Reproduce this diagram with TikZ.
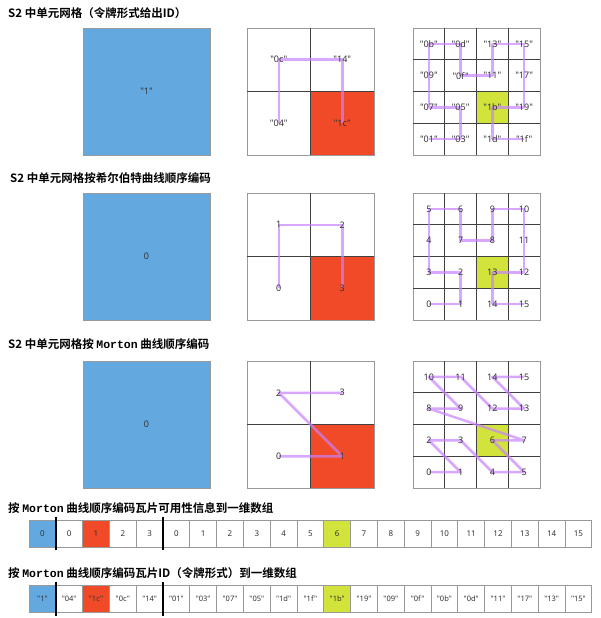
\documentclass[tikz,border=0pt]{standalone}
\usepackage{fontspec}
\setmainfont{Noto Sans}[Ligatures=TeXOff]
\newfontfamily\cjk{Noto Sans CJK SC}[BoldFont={Noto Sans CJK SC Bold}]
\setmonofont{Liberation Mono}
\definecolor{cblue}{RGB}{100,168,224}
\definecolor{cred}{RGB}{240,74,40}
\definecolor{cgreen}{RGB}{210,228,60}
\definecolor{cpath}{RGB}{200,130,255}
\tikzset{
  cell/.style={draw=black!40,line width=0.8pt,inner sep=0pt,minimum size=#1,anchor=center},
  cell/.default=10pt,
  inner/.style={draw=black!75,line width=0.8pt},
  lab/.style={font=\fontsize{9}{10}\selectfont,text=black!80,inner sep=0pt},
  alab/.style={font=\fontsize{8}{9}\selectfont,text=black!80,inner sep=0pt},
  curve/.style={draw=cpath,line width=2.5pt,opacity=0.7,line join=round},
  title/.style={font=\cjk\bfseries\fontsize{11.5}{13}\selectfont,anchor=west,inner sep=0pt},
  sep/.style={draw=black,line width=2pt},
  acell/.style={cell=10pt,minimum width=26.8pt,minimum height=27pt},
}
\newcommand\mkgrid[5]{% name, x, y(top), n, size
  \pgfmathsetmacro\cs{#5/#4}
  \foreach \i in {1,...,#4}{\foreach \j in {1,...,#4}{
    \node[cell=\cs pt] (#1-\i-\j) at ({#2+(\i-0.5)*\cs},{#3+#5-(\j-0.5)*\cs}) {};}}
}
\newcommand\mkinner[5]{%
  \pgfmathsetmacro\cs{#5/#4}
  \pgfmathtruncatemacro\nn{#4-1}
  \foreach \k in {1,...,\nn}{
    \draw[inner] ({#2+\k*\cs},#3) -- ({#2+\k*\cs},{#3+#5});
    \draw[inner] (#2,{#3+\k*\cs}) -- ({#2+#5},{#3+\k*\cs});}
}
\newcommand\hilbertfour[1]{\draw[curve] (#1-1-1.center)--(#1-2-1.center)--(#1-2-2.center)--(#1-1-2.center)--(#1-1-3.center)--(#1-1-4.center)--(#1-2-4.center)--(#1-2-3.center)--(#1-3-3.center)--(#1-3-4.center)--(#1-4-4.center)--(#1-4-3.center)--(#1-4-2.center)--(#1-3-2.center)--(#1-3-1.center)--(#1-4-1.center);}
\newcommand\mortonfour[1]{\draw[curve] (#1-1-1.center)--(#1-2-1.center)--(#1-1-2.center)--(#1-2-2.center)--(#1-3-1.center)--(#1-4-1.center)--(#1-3-2.center)--(#1-4-2.center)--(#1-1-3.center)--(#1-2-3.center)--(#1-1-4.center)--(#1-2-4.center)--(#1-3-3.center)--(#1-4-3.center)--(#1-3-4.center)--(#1-4-4.center);}
\begin{document}
\begin{tikzpicture}[x=1pt,y=-1pt]
\path[use as bounding box,fill=white] (0,0) rectangle (600,618);
% titles
\node[title] (t1) at (8,13) {S2 中单元网格（令牌形式给出ID）};
\node[title] (t2) at (10,178) {S2 中单元网格按希尔伯特曲线顺序编码};
\node[title] (t3) at (8,344) {S2 中单元网格按 {\ttfamily\bfseries Morton} 曲线顺序编码};
\node[title] (t4) at (8,508) {按 {\ttfamily\bfseries Morton} 曲线顺序编码瓦片可用性信息到一维数组};
\node[title] (t5) at (8,573) {按 {\ttfamily\bfseries Morton} 曲线顺序编码瓦片ID（令牌形式）到一维数组};
% rows
\foreach \r/\y in {a/28,b/193,c/361}{
  \node[cell=127pt,fill=cblue,draw=black!40] (\r0) at (146.5,{\y+63.5}) {};
  \mkgrid{\r m}{247}{\y}{2}{127}
  \node[cell=63.5pt,fill=cred,draw=black!40] at (\r m-2-1) {};
  \mkinner{\r m}{247}{\y}{2}{127}
  \mkgrid{\r r}{413}{\y}{4}{127}
  \node[cell=31.75pt,fill=cgreen,draw=black!40] at (\r r-3-2) {};
  \mkinner{\r r}{413}{\y}{4}{127}
}
\node[lab] (la0) at (a0) {"1"};
\node[lab] (lb0) at (b0) {0};
\node[lab] (lc0) at (c0) {0};
% row a middle
\draw[curve] (am-1-1.center)--(am-1-2.center)--(am-2-2.center)--(am-2-1.center);
\foreach \i/\j/\t in {1/2/"0c",2/2/"14",1/1/"04",2/1/"1c"}{\node[lab] (lam\i\j) at (am-\i-\j) {\t};}
\hilbertfour{ar}
\foreach \i/\j/\t in {1/4/"0b",2/4/"0d",3/4/"13",4/4/"15",1/3/"09",2/3/"0f",3/3/"11",4/3/"17",1/2/"07",2/2/"05",3/2/"1b",4/2/"19",1/1/"01",2/1/"03",3/1/"1d",4/1/"1f"}{\node[lab] (lar\i\j) at (ar-\i-\j) {\t};}
% row b
\draw[curve] (bm-1-1.center)--(bm-1-2.center)--(bm-2-2.center)--(bm-2-1.center);
\foreach \i/\j/\t in {1/2/1,2/2/2,1/1/0,2/1/3}{\node[lab] (lbm\i\j) at (bm-\i-\j) {\t};}
\hilbertfour{br}
\foreach \i/\j/\t in {1/4/5,2/4/6,3/4/9,4/4/10,1/3/4,2/3/7,3/3/8,4/3/11,1/2/3,2/2/2,3/2/13,4/2/12,1/1/0,2/1/1,3/1/14,4/1/15}{\node[lab] (lbr\i\j) at (br-\i-\j) {\t};}
% row c
\draw[curve] (cm-1-1.center)--(cm-2-1.center)--(cm-1-2.center)--(cm-2-2.center);
\foreach \i/\j/\t in {1/2/2,2/2/3,1/1/0,2/1/1}{\node[lab] (lcm\i\j) at (cm-\i-\j) {\t};}
\mortonfour{cr}
\foreach \i/\j/\t in {1/4/10,2/4/11,3/4/14,4/4/15,1/3/8,2/3/9,3/3/12,4/3/13,1/2/2,2/2/3,3/2/6,4/2/7,1/1/0,2/1/1,3/1/4,4/1/5}{\node[lab] (lcr\i\j) at (cr-\i-\j) {\t};}
% arrays
\foreach \t [count=\k from 0] in {0,0,1,2,3,0,1,2,3,4,5,6,7,8,9,10,11,12,13,14,15}{
  \node[acell] (u\k) at ({29+(\k+0.5)*26.8},533.5) {};}
\foreach \t [count=\k from 0] in {"1","04","1c","0c","14","01","03","07","05","1d","1f","1b","19","09","0f","0b","0d","11","17","13","15"}{
  \node[acell] (v\k) at ({29+(\k+0.5)*26.8},599) {};}
\foreach \a in {u,v}{
  \node[acell,fill=cblue] at (\a0) {};
  \node[acell,fill=cred] at (\a2) {};
  \node[acell,fill=cgreen] at (\a11) {};
}
\foreach \t [count=\k from 0] in {0,0,1,2,3,0,1,2,3,4,5,6,7,8,9,10,11,12,13,14,15}{
  \node[alab] (lu\k) at (u\k) {\t};}
\foreach \t [count=\k from 0] in {"1","04","1c","0c","14","01","03","07","05","1d","1f","1b","19","09","0f","0b","0d","11","17","13","15"}{
  \node[alab,font=\fontsize{7.5}{9}\selectfont] (lv\k) at (v\k) {\t};}
\foreach \a in {u,v}{
  \draw[sep] ([yshift=3pt]\a0.north east) -- ([yshift=-3pt]\a0.south east);
  \draw[sep] ([yshift=3pt]\a4.north east) -- ([yshift=-3pt]\a4.south east);
}
\end{tikzpicture}
\end{document}
